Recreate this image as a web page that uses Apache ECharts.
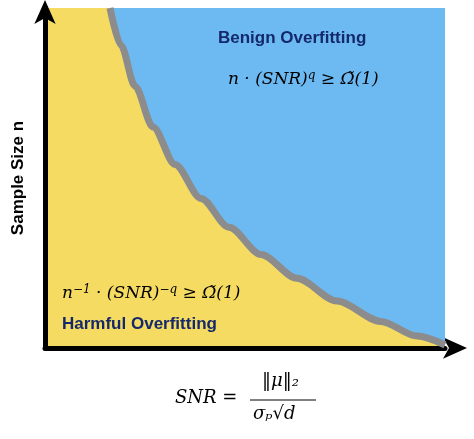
<!DOCTYPE html>
<html><head><meta charset="utf-8">
<script src="https://cdn.jsdelivr.net/npm/echarts@6/dist/echarts.min.js"></script>
<style>html,body{margin:0;padding:0;background:#fff}#c{width:474px;height:439px}</style>
</head><body><div id="c"></div>
<script>
// boundary curve between the two regimes (x: SNR, y: sample size, both 0..100)
var curveX = [16.25, 19, 22.5, 27, 32.5, 39, 46, 54, 63, 73, 84, 93, 100];
var curveY = [100, 89, 77, 65, 54, 44, 35.5, 27.5, 20.5, 13.8, 7.8, 3.5, 0.9];

var myChart = echarts.init(document.getElementById('c'));
var serif = 'DejaVu Serif, Liberation Serif, serif';
var navy = '#14296b';
function formula(parts) {
    return parts;
}
var rich = {
    m: {font: 'italic 17px ' + serif, fill: '#000', color: '#000'},
    s: {font: 'italic 12px ' + serif, fill: '#000', color: '#000', verticalAlign: 'top', padding: [0, 0, 8, 0]}
};
var option = {
    animation: false,
    grid: {left: 45, right: 29, top: 8, bottom: 91, show: true, backgroundColor: '#f6db62', borderWidth: 0},
    xAxis: {
        type: 'value', min: 0, max: 100, splitLine: {show: false},
        axisLabel: {show: false}, axisTick: {show: false},
        axisLine: {lineStyle: {color: '#000', width: 5}, symbol: ['none', 'arrow'], symbolSize: [16, 24], symbolOffset: [0, 22]}
    },
    yAxis: {
        type: 'value', min: 0, max: 100, splitLine: {show: false},
        axisLabel: {show: false}, axisTick: {show: false},
        name: 'Sample Size n', nameLocation: 'middle', nameGap: 18,
        nameTextStyle: {fontFamily: 'Liberation Sans, Arial', fontWeight: 'bold', fontSize: 17, color: '#000'},
        axisLine: {lineStyle: {color: '#000', width: 5}, symbol: ['none', 'arrow'], symbolSize: [16, 24], symbolOffset: [0, 8]}
    },
    series: [{
        type: 'line', smooth: 0.3, smoothMonotone: 'x', symbol: 'none',
        data: curveX.map(function (x, i) { return [x, curveY[i]]; }),
        lineStyle: {color: '#8c8c8c', width: 7},
        areaStyle: {color: '#6dbaf2', opacity: 1, origin: 'end'}
    }],
    graphic: [
        {type: 'text', z: 100, left: 218, top: 30, style: {text: 'Benign Overfitting', font: 'bold 17px Liberation Sans, Arial', fill: navy}},
        {type: 'text', z: 100, left: 228, top: 70, style: {text: formula('{m|n · (SNR)}{s|q}{m| ≥ Ω̃(1)}'), rich: rich}},
        {type: 'text', z: 100, left: 62, top: 284, style: {text: formula('{m|n}{s|−1}{m| · (SNR)}{s|−q}{m| ≥ Ω̃(1)}'), rich: rich}},
        {type: 'text', z: 100, left: 62, top: 316, style: {text: 'Harmful Overfitting', font: 'bold 17px Liberation Sans, Arial', fill: navy}},
        {type: 'text', z: 100, left: 175, top: 389, style: {text: 'SNR =', font: 'italic 18px ' + serif, fill: '#000'}},
        {type: 'text', z: 100, left: 262, top: 372, style: {text: '‖μ‖\u2082', font: 'italic 18px ' + serif, fill: '#000'}},
        {type: 'line', z: 100, shape: {x1: 250, y1: 400, x2: 316, y2: 400}, style: {stroke: '#000', lineWidth: 1}},
        {type: 'text', z: 100, left: 253, top: 405, style: {text: 'σ\u209a√d', font: 'italic 18px ' + serif, fill: '#000'}}
    ]
};
myChart.setOption(option);
</script>
</body></html>
